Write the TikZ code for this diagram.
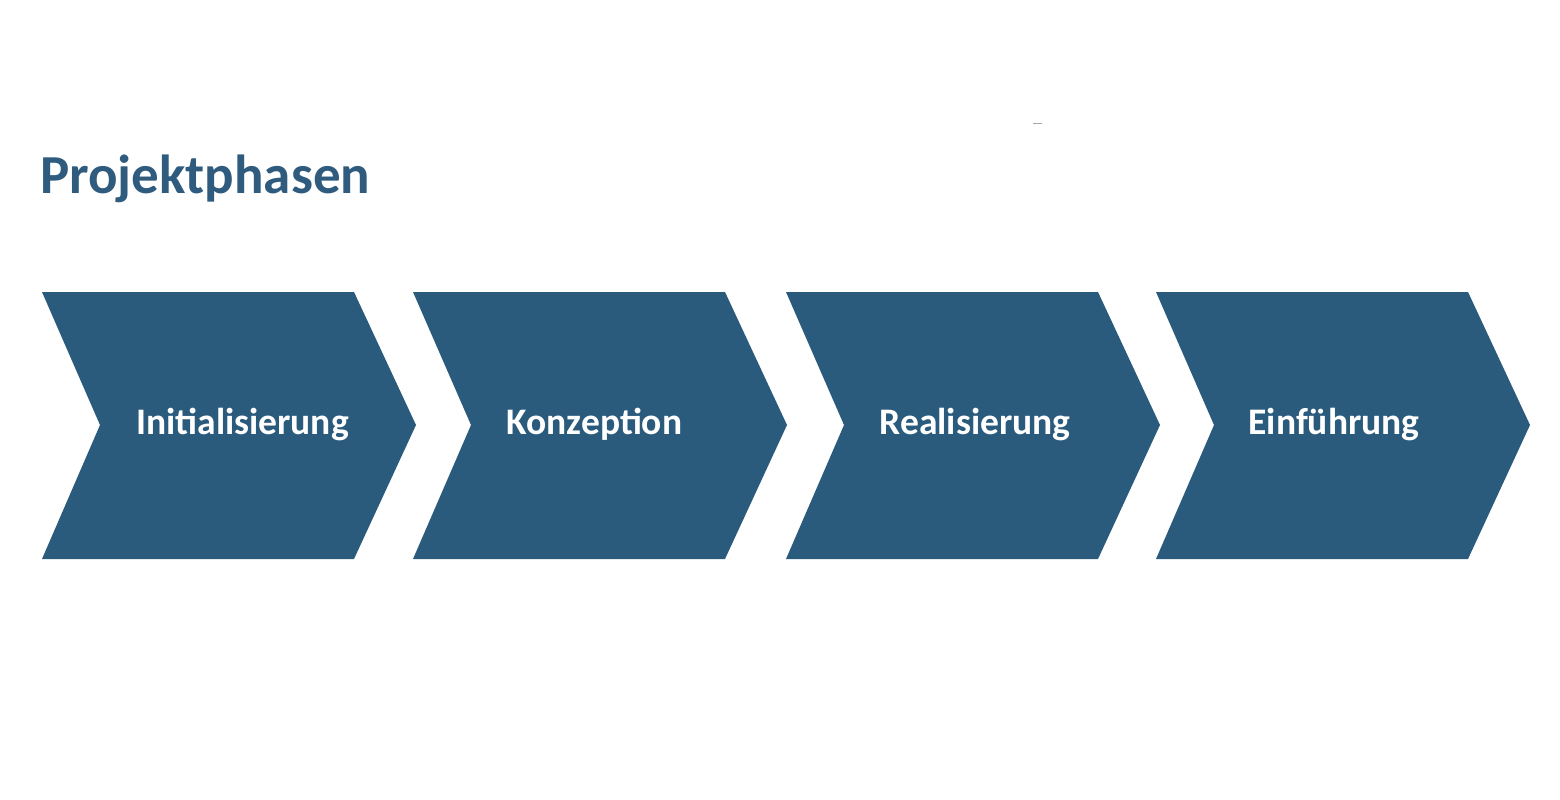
\documentclass[tikz,border=0pt]{standalone}
\usepackage{fontspec}
\setmainfont{Carlito}
\definecolor{phaseblue}{HTML}{2A5A7C}
\definecolor{titleblue}{HTML}{2F5B7E}
\tikzset{
  phasefill/.style={fill=phaseblue, draw=none},
  phaselabel/.style={anchor=base, text=white, font=\fontsize{37.5}{40}\selectfont\bfseries, inner sep=0pt},
  titlelabel/.style={anchor=base west, text=titleblue, font=\fontsize{55}{60}\selectfont\bfseries, inner sep=0pt}
}
\begin{document}
\begin{tikzpicture}[x=1pt,y=-1pt]
\useasboundingbox (0,0) rectangle (1560,800);
\fill[white] (0,0) rectangle (1560,800);
\node[titlelabel] (title) at (40,193) {Projektphasen};
\foreach \L/\nm in {42/a,413/b,786/c,1156/d}{
  \fill[phasefill] (\L,292) -- ({\L+312},292) -- ({\L+374},425) -- ({\L+312},559) -- (\L,559) -- ({\L+58},425) -- cycle;
}
\node[phaselabel] (l1) at (242.5,434) {Initialisierung};
\node[phaselabel] (l2) at (594.5,434) {Konzeption};
\node[phaselabel] (l3) at (975,434) {Realisierung};
\node[phaselabel] (l4) at (1334,434) {Einführung};
\draw[gray!70, line width=0.8pt] (1033,123) -- (1042,123);
\end{tikzpicture}
\end{document}
